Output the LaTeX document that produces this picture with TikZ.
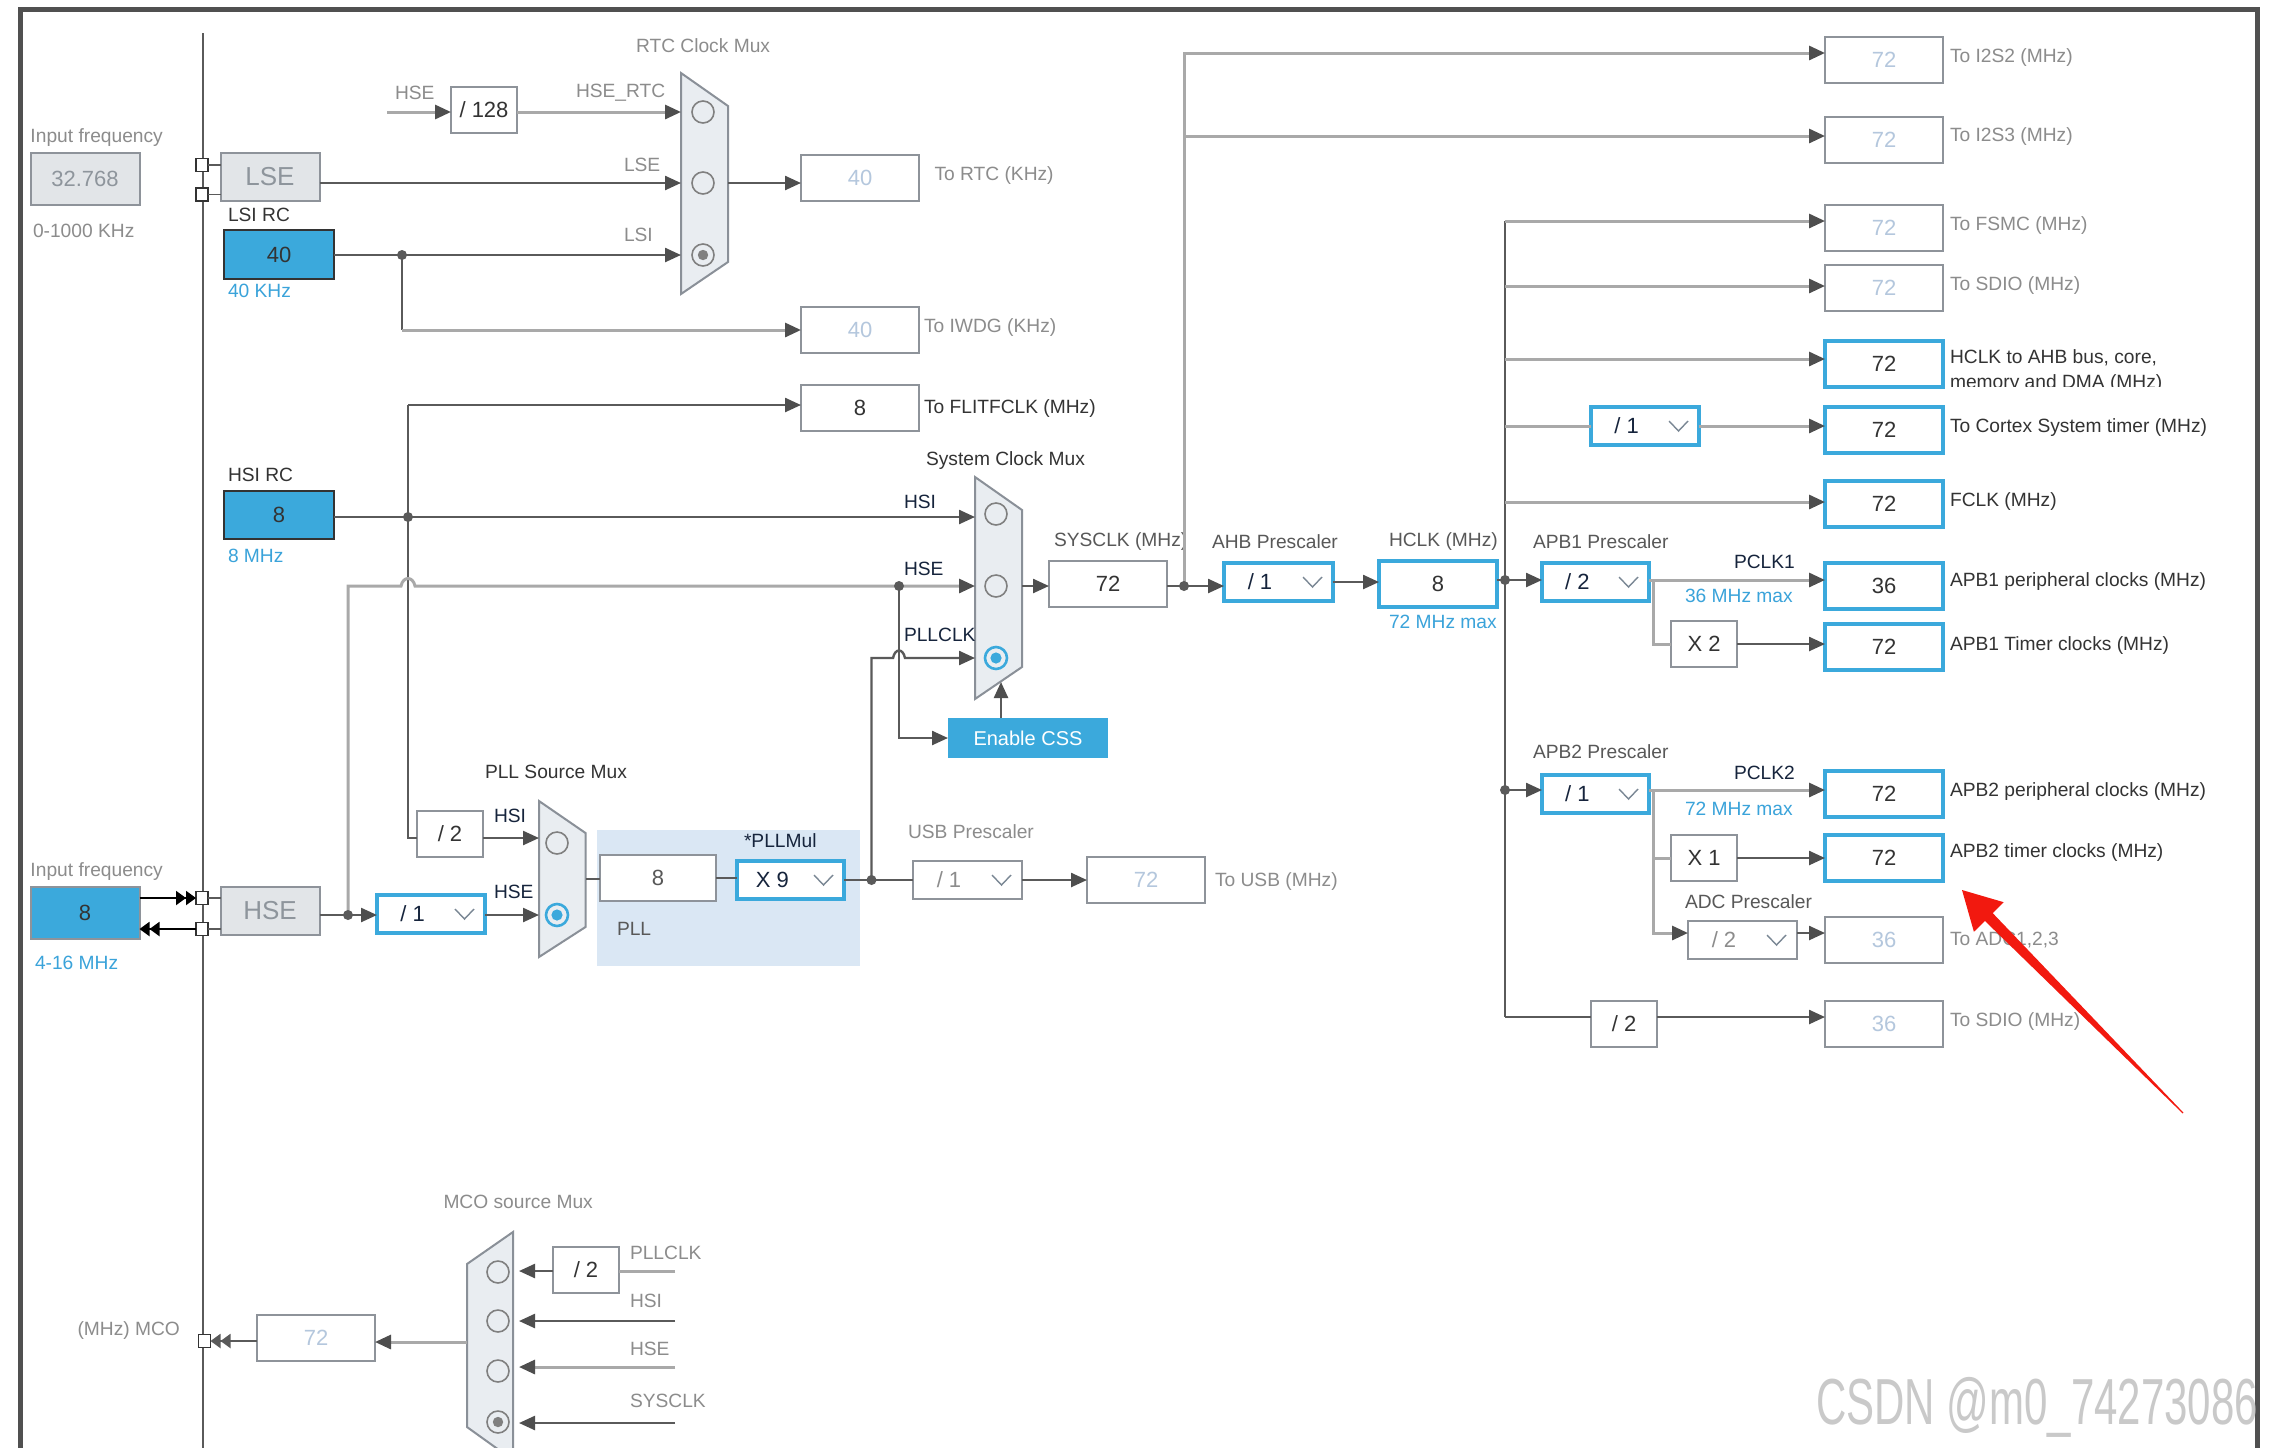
\documentclass[tikz,border=0pt]{standalone}
\usepackage{fontspec}
\usepackage{graphicx}
\setmainfont{Liberation Sans}
\usetikzlibrary{arrows.meta,calc}

\definecolor{lgray}{HTML}{8C8C8C}
\definecolor{mgray}{HTML}{585858}
\definecolor{dgray}{HTML}{333333}
\definecolor{navy}{HTML}{16243C}
\definecolor{cblue}{HTML}{3BA9DC}
\definecolor{tblue}{HTML}{3AA3DA}
\definecolor{vlight}{HTML}{B4C7DD}
\definecolor{bgray}{HTML}{8E939A}
\definecolor{fillg}{HTML}{E2E5E8}
\definecolor{srct}{HTML}{8E959C}
\definecolor{muxf}{HTML}{E9EDF1}
\definecolor{muxb}{HTML}{8A9098}
\definecolor{pllbg}{HTML}{DAE7F4}
\definecolor{lnd}{HTML}{5A5A5A}
\definecolor{lnl}{HTML}{A9A9A9}
\definecolor{tipc}{HTML}{4E4E4E}
\definecolor{framec}{HTML}{505050}
\definecolor{chevc}{HTML}{7A8794}
\definecolor{redarr}{HTML}{F2190F}
\definecolor{wmc}{HTML}{C9C9C9}

\newcommand\ddbox[8]{%
  \node[#7, minimum width=#4*0.5pt, minimum height=#5*0.5pt] (#1) at (#2,#3) {};
  \node[font=\fontsize{11}{13}\selectfont, text=#8] (#1-txt) at ($(#1.west)+(0.33*#4,0)$) {#6};
  \draw[chev] ($(#1.east)+(-30,-5)$) -- ++(9.5,10) -- ++(9.5,-10);
}

\begin{document}
\begin{tikzpicture}[x=0.5pt,y=-0.5pt,
  every node/.style={inner sep=0pt,outer sep=0pt},
  fs/.style={font=\fontsize{9.6}{11.5}\selectfont},
  lbl/.style={fs,text=lgray,anchor=west},
  mlbl/.style={fs,text=mgray,anchor=west},
  dlbl/.style={fs,text=dgray,anchor=west},
  nlbl/.style={fs,text=navy,anchor=west},
  blbl/.style={fs,text=tblue,anchor=west},
  sz/.style 2 args={minimum width=#1*0.5pt,minimum height=#2*0.5pt},
  vfont/.style={font=\fontsize{11}{13}\selectfont},
  gbox/.style={draw=bgray,line width=1pt,fill=white,vfont,text=dgray},
  ibox/.style={gbox,text=vlight},
  abox/.style={draw=cblue,line width=2pt,fill=white,vfont,text=dgray},
  src/.style={draw=bgray,line width=1pt,fill=fillg,text=srct},
  osc/.style={draw=dgray,line width=1pt,fill=cblue,vfont,text=dgray},
  port/.style={draw=dgray,fill=white,line width=0.7pt,minimum width=6pt,minimum height=6.5pt},
  ln/.style={draw=lnd,line width=1.2pt},
  lnt/.style={draw=lnl,line width=1.5pt},
  arr/.style={-{Triangle[length=8pt,width=7pt,color=tipc]}},
  darr/.style={-{Triangle[length=5pt,width=7pt]Triangle[length=5pt,width=7pt]}},
  dot/.style={circle,fill=lnd,minimum size=5pt},
  muxs/.style={draw=muxb,fill=muxf,line width=1pt},
  mc/.style={circle,draw=gray,line width=0.8pt,minimum size=11pt},
  mcg/.style={mc,path picture={\fill[gray] (path picture bounding box.center) circle[radius=2.6pt];}},
  mcb/.style={circle,draw=cblue,line width=1.3pt,minimum size=11pt,path picture={\fill[cblue] (path picture bounding box.center) circle[radius=2.8pt];}},
  chev/.style={draw=chevc,line width=0.7pt},
]
\useasboundingbox (0,0) rectangle (2275,1447);
\fill[white] (0,0) rectangle (2275,1447);

% frame and spine
\draw[framec,line width=2.5pt] (20.5,1452) -- (20.5,9.5) -- (2257.5,9.5) -- (2257.5,1452);
\coordinate (spT) at (203,33); \coordinate (spB) at (203,1450);
\draw[lnd,line width=0.8pt] (spT) -- (spB);

% ---------- muxes and PLL background ----------
\node[fill=pllbg,sz={263}{136},anchor=north west] (pllbg) at (597,830) {};
\draw[muxs] (681,73) -- (728,106) -- (728,262) -- (681,294) -- cycle;
\draw[muxs] (975,477) -- (1022,510) -- (1022,667) -- (975,699) -- cycle;
\draw[muxs] (539,801) -- (585.5,833) -- (585.5,927) -- (539,957) -- cycle;
\draw[muxs] (513,1232) -- (467,1264) -- (467,1427) -- (513,1460) -- cycle;

\node[mc] (rc1) at (703,112) {};
\node[mc] (rc2) at (703,183) {};
\node[mcg] (rc3) at (703,255) {};
\node[mc] (sc1) at (996,514) {};
\node[mc] (sc2) at (996,586) {};
\node[mcb] (sc3) at (996,658) {};
\node[mc] (pc1) at (557,843) {};
\node[mcb] (pc2) at (557,915) {};
\node[mc] (mc1) at (498,1272) {};
\node[mc] (mc2) at (498,1321) {};
\node[mc] (mc3) at (498,1371) {};
\node[mcg] (mc4) at (498,1422) {};

\coordinate (rtcin1) at (681,112); \coordinate (rtcin2) at (681,183);
\coordinate (rtcin3) at (681,255); \coordinate (rtcout) at (728,183);
\coordinate (sin1) at (975,517); \coordinate (sin2) at (975,586);
\coordinate (sin3) at (975,658); \coordinate (sout) at (1022,586);
\coordinate (sbot) at (1001,682);
\coordinate (pin1) at (539,838); \coordinate (pin2) at (539,915);
\coordinate (pout) at (585.5,879);
\coordinate (min1) at (519,1271); \coordinate (min2) at (519,1321);
\coordinate (min3) at (519,1367); \coordinate (min4) at (519,1423);
\coordinate (mout) at (467,1342);

% ---------- left column ----------
\node[lbl] (tif1) at (30.5,138) {Input frequency};
\node[src,sz={109}{52},vfont] (inA) at (85,179) {32.768};
\node[lbl] (trange1) at (33,231) {0-1000 KHz};
\node[src,sz={99}{48},font=\fontsize{13}{15}\selectfont] (lse) at (270,177) {LSE};
\node[port] (p1) at (202,165) {};
\node[port] (p2) at (202,194.5) {};
\draw[lnd,line width=0.8pt] (p1.east) -- (p1.east -| lse.west);
\draw[lnd,line width=0.8pt] (p2.east) -- (p2.east -| lse.west);
\node[dlbl] (tlsirc) at (228,215) {LSI RC};
\node[osc,sz={110}{49}] (lsi) at (279,254.5) {40};
\node[blbl] (tlsik) at (228,291) {40 KHz};

\node[dlbl] (thsirc) at (228,475) {HSI RC};
\node[osc,sz={110}{48}] (hsi) at (279,515) {8};
\node[blbl] (thsim) at (228,556) {8 MHz};

\node[lbl] (tif2) at (30.5,872) {Input frequency};
\node[osc,draw=bgray,sz={109}{52}] (inB) at (85,913) {8};
\node[blbl] (trange2) at (35,963) {4-16 MHz};
\node[port] (p3) at (202,898) {};
\node[port] (p4) at (202,929) {};
\draw[black,line width=1pt,darr] (inB.east |- p3) -- (p3.west);
\draw[black,line width=1pt,darr] (p4.west) -- (inB.east |- p4);
\node[src,sz={99}{48},font=\fontsize{13}{15}\selectfont] (hse) at (270,911) {HSE};
\draw[lnd,line width=0.8pt] (p3.east) -- (p3.east -| hse.west);
\draw[lnd,line width=0.8pt] (p4.east) -- (p4.east -| hse.west);

% ---------- RTC ----------
\node[lbl] (trtcmux) at (636,46) {RTC Clock Mux};
\coordinate (hsein) at (387,112);
\node[lbl] (thse1) at (395,93) {HSE};
\node[gbox,sz={66}{46}] (d128) at (484,110) {/ 128};
\draw[lnt,arr] (hsein) -- (d128.west |- hsein);
\node[lbl] (thsertc) at (576,93) {HSE\_RTC};
\draw[lnt,arr] (d128.east |- rtcin1) -- (rtcin1);
\node[lbl] (tlse) at (624,165) {LSE};
\draw[ln,arr] (lse.east |- rtcin2) -- (rtcin2);
\node[lbl] (tlsi) at (624,235) {LSI};
\draw[ln,arr] (lsi.east |- rtcin3) -- (rtcin3);

\node[ibox,sz={118}{46}] (rtc) at (860,178) {40};
\draw[ln,arr] (rtcout) -- (rtc.west |- rtcout);
\node[lbl] (trtc) at (934.5,176) {To RTC (KHz)};

\coordinate (jlsi) at (402,255);
\node[ibox,sz={118}{46}] (iwdg) at (860,330) {40};
\draw[ln] (jlsi) -- (jlsi |- iwdg.west);
\draw[lnt,arr] (jlsi |- iwdg.west) -- (iwdg.west);
\node[dot] (djlsi) at (jlsi) {};
\node[lbl] (tiwdg) at (924,328) {To IWDG (KHz)};

\node[gbox,sz={118}{46}] (flit) at (860,408) {8};
\coordinate (cflit) at (408,405);
\draw[ln,arr] (cflit) -- (flit.west |- cflit);
\node[dlbl] (tflit) at (924,409) {To FLITFCLK (MHz)};

% ---------- System clock mux ----------
\node[dlbl] (tsysmux) at (926,461) {System Clock Mux};
\node[nlbl] (tshsi) at (904,502) {HSI};
\node[nlbl] (tshse) at (904,569) {HSE};
\node[nlbl] (tspll) at (904,635) {PLLCLK};

\coordinate (jhsi) at (408,517);
\draw[ln,arr] (hsi.east |- sin1) -- (sin1);
\node[gbox,sz={66}{46}] (d2p) at (450,834) {/ 2};
\coordinate (chsi2) at (408,838);
\draw[ln] (cflit) -- (chsi2) -- (chsi2 -| d2p.west);
\node[dot] (djhsi) at (jhsi) {};

\coordinate (jhse) at (348,915);
\coordinate (chse) at (348,586);
\draw[lnt,arr] (jhse) -- (chse) -- (401,586) .. controls (403,576) and (413,576) .. (415,586) -- (sin2);
\coordinate (jcss) at (899,586);

\node[fill=cblue,sz={160}{40},text=white,font=\fontsize{10}{12}\selectfont] (css) at (1028,738) {Enable CSS};
\draw[ln,arr] (jcss) |- (css.west);
\draw[ln,arr] (css.north -| sbot) -- (sbot);
\node[dot] (djcss) at (jcss) {};

\coordinate (jpll) at (871.5,880);
\draw[ln,arr] (jpll) -- (jpll |- sin3) -- (893,658) .. controls (895,648) and (903,648) .. (905,658) -- (sin3);

\node[gbox,sz={118}{46}] (sys) at (1108,584) {72};
\draw[ln,arr] (sout) -- (sys.west |- sout);
\node[mlbl] (tsysclk) at (1054,542) {SYSCLK (MHz)};

\ddbox{ahb}{1278.5}{582}{109}{38}{/ 1}{abox}{navy}
\coordinate (jsys) at (1184,586);
\draw[ln,arr] (sys.east |- jsys) -- (ahb.west |- jsys);
\node[mlbl] (tahb) at (1212,542) {AHB Prescaler};

\node[abox,sz={118}{46}] (hclk) at (1438,584) {8};
\draw[ln,arr] (ahb.east) -- (hclk.west |- ahb.east);
\node[mlbl] (thclk) at (1389,542) {HCLK (MHz)};
\node[blbl] (thclkmax) at (1389,622) {72 MHz max};

% ---------- top vertical (I2S) ----------
\node[ibox,sz={118}{46}] (i2s2) at (1884,60) {72};
\node[ibox,sz={118}{46}] (i2s3) at (1884,140) {72};
\coordinate (ctop) at (1184,53);
\coordinate (ci2s3) at (1184,136);
\draw[lnt,arr] (jsys) -- (ctop) -- (ctop -| i2s2.west);
\draw[lnt,arr] (ci2s3) -- (ci2s3 -| i2s3.west);
\node[dot] (djsys) at (jsys) {};
\node[lbl] (ti2s2) at (1950,58) {To I2S2 (MHz)};
\node[lbl] (ti2s3) at (1950,137) {To I2S3 (MHz)};

% ---------- bus ----------
\node[ibox,sz={118}{46}] (fsmc) at (1884,228) {72};
\node[ibox,sz={118}{46}] (sdio) at (1884,288) {72};
\node[abox,sz={118}{46}] (ahbo) at (1884,364) {72};
\node[abox,sz={118}{46}] (cort) at (1884,430) {72};
\node[abox,sz={118}{46}] (fclk) at (1884,504) {72};
\node[abox,sz={118}{46}] (apb1p) at (1884,586) {36};
\node[abox,sz={118}{46}] (apb1tim) at (1884,647) {72};
\node[abox,sz={118}{46}] (apb2p) at (1884,794) {72};
\node[abox,sz={118}{46}] (apb2tim) at (1884,858) {72};
\node[ibox,sz={118}{46}] (adc36) at (1884,940) {36};
\node[ibox,sz={118}{46}] (sdio2) at (1884,1024) {36};

\coordinate (btop) at (1505,221);
\coordinate (bbot) at (1505,1017);
\coordinate (bsdio) at (1505,286);
\coordinate (bahb) at (1505,359);
\coordinate (bcort) at (1505,426);
\coordinate (bfclk) at (1505,502);
\coordinate (b1) at (1505,580);
\coordinate (b2) at (1505,790);
\draw[ln] (btop) -- (bbot);
\draw[lnt,arr] (btop) -- (btop -| fsmc.west);
\draw[lnt,arr] (bsdio) -- (bsdio -| sdio.west);
\draw[lnt,arr] (bahb) -- (bahb -| ahbo.west);
\ddbox{cdiv}{1645}{426}{108}{38}{/ 1}{abox}{navy}
\draw[lnt] (bcort) -- (bcort -| cdiv.west);
\draw[lnt,arr] (cdiv.east |- bcort) -- (bcort -| cort.west);
\draw[lnt,arr] (bfclk) -- (bfclk -| fclk.west);
\draw[ln] (hclk.east |- b1) -- (b1);

\ddbox{apb1}{1595.5}{582}{107}{38}{/ 2}{abox}{navy}
\draw[ln,arr] (b1) -- (b1 -| apb1.west);
\node[dot] (db1) at (b1) {};
\ddbox{apb2}{1595.5}{794}{107}{38}{/ 1}{abox}{navy}
\draw[ln,arr] (b2) -- (b2 -| apb2.west);
\node[dot] (db2) at (b2) {};

\coordinate (c1a) at (1653,580);
\node[gbox,sz={66}{46}] (x2) at (1704,644) {X 2};
\draw[lnt,arr] (apb1.east |- c1a) -- (c1a -| apb1p.west);
\draw[lnt] (c1a) |- (x2.west);
\draw[ln,arr] (x2.east) -- (x2.east -| apb1tim.west);
\node[mlbl] (tapb1) at (1533,542) {APB1 Prescaler};
\node[nlbl] (tpclk1) at (1734,562) {PCLK1};
\node[blbl] (tp1max) at (1685,596) {36 MHz max};

\coordinate (c2a) at (1653,790);
\coordinate (cadc) at (1653,933);
\node[gbox,sz={66}{46}] (x1) at (1704,858) {X 1};
\ddbox{adc}{1742.5}{940}{109}{38}{/ 2}{gbox}{lgray}
\draw[lnt,arr] (apb2.east |- c2a) -- (c2a -| apb2p.west);
\draw[lnt,arr] (c2a) -- (cadc) -- (cadc -| adc.west);
\draw[lnt] (c2a |- x1.west) -- (x1.west);
\draw[ln,arr] (x1.east) -- (x1.east -| apb2tim.west);
\draw[ln,arr] (adc.east |- cadc) -- (cadc -| adc36.west);
\node[mlbl] (tapb2) at (1533,752) {APB2 Prescaler};
\node[nlbl] (tpclk2) at (1734,773) {PCLK2};
\node[blbl] (tp2max) at (1685,809) {72 MHz max};
\node[mlbl] (tadcp) at (1685,902) {ADC Prescaler};

\node[gbox,sz={66}{46}] (sd2) at (1624,1024) {/ 2};
\draw[ln] (bbot) -- (bbot -| sd2.west);
\draw[ln,arr] (sd2.east |- bbot) -- (bbot -| sdio2.west);

% right labels
\node[lbl] (tfsmc) at (1950,226) {To FSMC (MHz)};
\node[lbl] (tsdio) at (1950,286) {To SDIO (MHz)};
\begin{scope}
  \clip (1940,335) rectangle (2250,386);
  \node[dlbl] (tahb1) at (1950,358) {HCLK to AHB bus, core,};
  \node[dlbl] (tahb2) at (1950,384) {memory and DMA (MHz)};
\end{scope}
\node[dlbl] (tcort) at (1950,428) {To Cortex System timer (MHz)};
\node[dlbl] (tfclk) at (1950,502) {FCLK (MHz)};
\node[dlbl] (tapb1p) at (1950,582) {APB1 peripheral clocks (MHz)};
\node[dlbl] (tapb1t) at (1950,646) {APB1 Timer clocks (MHz)};
\node[dlbl] (tapb2p) at (1950,792) {APB2 peripheral clocks (MHz)};
\node[dlbl] (tapb2t) at (1950,853) {APB2 timer clocks (MHz)};
\node[lbl] (tadc) at (1950,940) {To ADC1,2,3};
\node[lbl] (tsdio2) at (1950,1022) {To SDIO (MHz)};

% ---------- PLL ----------
\node[dlbl] (tpllsrc) at (485,772) {PLL Source Mux};
\node[nlbl] (tphsi) at (494,816) {HSI};
\node[nlbl] (tphse) at (494,892) {HSE};
\draw[ln,arr] (d2p.east |- pin1) -- (pin1);
\ddbox{hdiv}{431}{914}{108}{38}{/ 1}{abox}{navy}
\draw[ln,arr] (hse.east |- jhse) -- (hdiv.west |- jhse);
\node[dot] (djhse) at (jhse) {};
\draw[ln,arr] (hdiv.east |- pin2) -- (pin2);

\node[gbox,sz={116}{46},text=mgray] (pll8) at (658,878) {8};
\draw[ln] (pout) -- (pll8.west |- pout);
\ddbox{x9}{790.5}{880}{107}{38}{X 9}{abox}{navy}
\draw[ln] (pll8.east) -- (pll8.east -| x9.west);
\ddbox{usb1}{967.5}{880}{109}{38}{/ 1}{gbox}{lgray}
\draw[ln] (x9.east) -- (jpll) -- (usb1.west);
\node[dot] (djpll) at (jpll) {};
\node[ibox,sz={118}{46}] (usb) at (1146,880) {72};
\draw[ln,arr] (usb1.east) -- (usb.west);
\node[nlbl] (tpllmul) at (744,841) {*PLLMul};
\node[mlbl] (tpll) at (617,929) {PLL};
\node[lbl] (tusbp) at (908,832) {USB Prescaler};
\node[lbl] (tusb) at (1215,882) {To USB (MHz)};

% ---------- MCO ----------
\node[lbl] (tmcomux) at (443.5,1202) {MCO source Mux};
\node[gbox,sz={66}{46}] (md2) at (586,1270) {/ 2};
\coordinate (mpll) at (675,1271);
\coordinate (mhsi) at (675,1321);
\coordinate (mhse) at (675,1367);
\coordinate (msys) at (675,1423);
\draw[lnt] (mpll) -- (mpll -| md2.east);
\draw[ln,arr] (md2.west |- min1) -- (min1);
\draw[ln,arr] (mhsi) -- (min2);
\draw[lnt,arr] (mhse) -- (min3);
\draw[ln,arr] (msys) -- (min4);
\node[lbl] (tmpll) at (630,1253) {PLLCLK};
\node[lbl] (tmhsi) at (630,1301) {HSI};
\node[lbl] (tmhse) at (630,1349) {HSE};
\node[lbl] (tmsys) at (630,1401) {SYSCLK};
\node[ibox,sz={118}{46}] (mco) at (316,1338) {72};
\draw[lnt,arr] (mout) -- (mout -| mco.east);
\node[port] (p5) at (204.5,1341) {};
\draw[lnd,line width=1pt,darr] (mco.west |- p5) -- (p5.east);
\node[lbl] (tmco) at (77.5,1331) {(MHz) MCO};

% ---------- annotation ----------
\fill[redarr] (1962,890) -- (2003.7,902.2) -- (1992.7,913.1) -- (2183.4,1112.6)
  -- (2182.6,1113.4) -- (1984.9,920.9) -- (1973.9,931.8) -- cycle;
\node[font=\fontsize{21}{25}\selectfont,text=wmc] (wm) at (2037,1407) {\scalebox{1}[1.55]{CSDN @m0\_74273086}};
\end{tikzpicture}
\end{document}
